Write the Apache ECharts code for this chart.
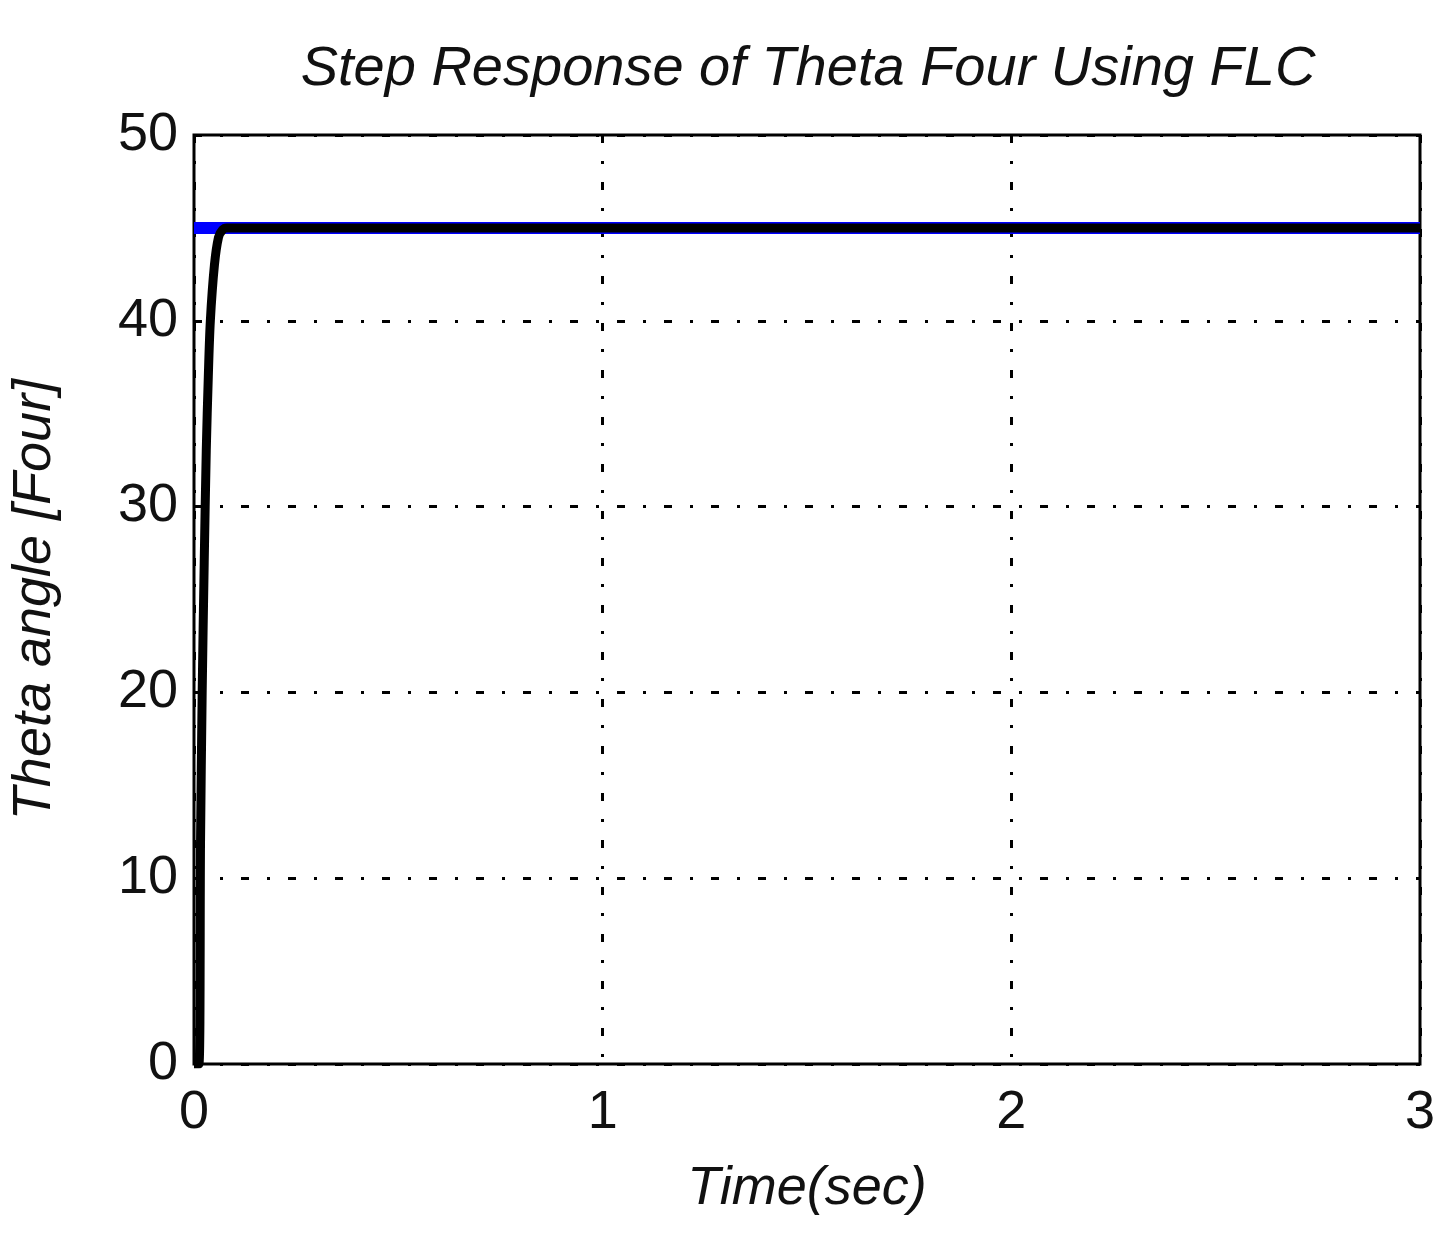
<!DOCTYPE html>
<html>
<head>
<meta charset="utf-8">
<script src="https://cdn.jsdelivr.net/npm/echarts@6/dist/echarts.min.js"></script>
<style>html,body{margin:0;background:#fff}#c{width:1439px;height:1247px}</style>
</head>
<body>
<div id="c"></div>
<script>
// 时间与响应数据
var timeFlc = [0, 0.012, 0.016, 0.02, 0.025, 0.03, 0.035, 0.04, 0.05, 0.06, 0.07, 0.08, 0.1, 0.5, 1, 2, 3];
var thetaFlc = [0, 0, 12, 20, 27, 33, 37, 40, 43, 44.5, 44.9, 45, 45, 45, 45, 45, 45];
var timeRef = [0, 3];
var thetaRef = [45, 45];

var pair = function (xs, ys) {
  return xs.map(function (x, i) { return [x, ys[i]]; });
};

var chart = echarts.init(document.getElementById('c'));
var gridLine = { show: true, lineStyle: { color: '#000', width: 3, type: [8, 18, 3, 18] } };
var font = { fontFamily: 'Liberation Sans', fontStyle: 'italic', fontWeight: 'normal', fontSize: 54, color: '#111' };
chart.setOption({
  animation: false,
  title: {
    text: 'Step Response of Theta Four Using FLC',
    left: 803, top: 36, textAlign: 'center',
    textStyle: { fontFamily: 'Liberation Sans', fontStyle: 'italic', fontWeight: 'normal', fontSize: 56, color: '#111' }
  },
  grid: { left: 192, right: 19, top: 135, bottom: 183, show: true, borderColor: '#000', borderWidth: 3 },
  xAxis: {
    type: 'value', min: 0, max: 3, interval: 1,
    name: 'Time(sec)', nameLocation: 'middle', nameGap: 98,
    nameTextStyle: font,
    axisLine: { show: false }, axisTick: { show: false },
    axisLabel: { fontFamily: 'Liberation Sans', fontSize: 54, color: '#111', margin: 22 },
    splitLine: gridLine
  },
  yAxis: {
    type: 'value', min: 0, max: 50, interval: 10,
    name: 'Theta angle [Four]', nameLocation: 'middle', nameGap: 132,
    nameTextStyle: font,
    axisLine: { show: false }, axisTick: { show: false },
    axisLabel: { fontFamily: 'Liberation Sans', fontSize: 54, color: '#111', margin: 16 },
    splitLine: gridLine
  },
  series: [
    { type: 'line', data: pair(timeRef, thetaRef), symbol: 'none', lineStyle: { color: '#0000ff', width: 12 } },
    { type: 'line', data: pair(timeFlc, thetaFlc), symbol: 'none', smooth: 0.3, lineStyle: { color: '#000', width: 9 } }
  ]
});
</script>
</body>
</html>
